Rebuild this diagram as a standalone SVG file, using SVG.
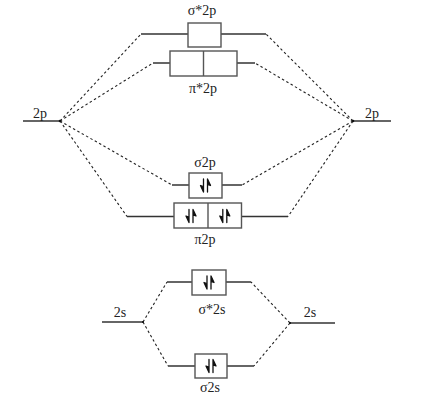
<svg xmlns="http://www.w3.org/2000/svg" xmlns:xlink="http://www.w3.org/1999/xlink" width="441" height="410" viewBox="0 0 441 410">
<style>
.lvl{stroke:#333;stroke-width:1.3;fill:none}
.dash{stroke:#222;stroke-width:1.1;stroke-dasharray:2.5 2.5;fill:none}
.box{stroke:#555;stroke-width:1.4;fill:#fff}
.lbl{font-family:"Liberation Serif","Times New Roman",serif;font-size:14px;fill:#222;text-anchor:middle}
.dot{fill:#111}
</style>
<defs>
<g id="pair">
<path d="M-2,-6.5 V6.5 L-5,0 L-2,1 Z" fill="#111" stroke="#111" stroke-width="1.3" stroke-linejoin="round"/>
<path d="M2,6.5 V-6.5 L5,0 L2,-1 Z" fill="#111" stroke="#111" stroke-width="1.3" stroke-linejoin="round"/>
</g>
</defs>
<rect width="441" height="410" fill="#fff"/>
<g id="connectors">
<path class="dash" d="M60,121 L141,34"/>
<path class="dash" d="M60,121 L153,63"/>
<path class="dash" d="M60,121 L172,185"/>
<path class="dash" d="M60,121 L127,216.5"/>
<path class="dash" d="M353,121 L266,34"/>
<path class="dash" d="M353,121 L255,63"/>
<path class="dash" d="M353,121 L242,185"/>
<path class="dash" d="M353,121 L288,216.5"/>
<path class="dash" d="M143,322 L167,282"/>
<path class="dash" d="M143,322 L168,366"/>
<path class="dash" d="M290,323 L251,282"/>
<path class="dash" d="M290,323 L254,366"/>
</g>
<g id="left-2p">
<line class="lvl" x1="23" y1="121" x2="60" y2="121"/>
<circle class="dot" cx="60" cy="121" r="1.3"/>
<text class="lbl" x="40" y="118">2p</text>
</g>
<g id="right-2p">
<line class="lvl" x1="353" y1="121" x2="391" y2="121"/>
<circle class="dot" cx="353" cy="121" r="1.3"/>
<text class="lbl" x="372" y="118">2p</text>
</g>
<g id="sigma-star-2p">
<line class="lvl" x1="141" y1="34" x2="266" y2="34"/>
<rect class="box" x="188" y="23" width="33" height="24"/>
<text class="lbl" x="202" y="15">σ*2p</text>
</g>
<g id="pi-star-2p">
<line class="lvl" x1="153" y1="63" x2="255" y2="63"/>
<rect class="box" x="170" y="51" width="67" height="25"/>
<line class="box" x1="203.5" y1="51" x2="203.5" y2="76"/>
<text class="lbl" x="203" y="93">π*2p</text>
</g>
<g id="sigma-2p">
<line class="lvl" x1="172" y1="185" x2="242" y2="185"/>
<rect class="box" x="189" y="173" width="33" height="25"/>
<use xlink:href="#pair" x="205.5" y="185.5"/>
<text class="lbl" x="205" y="167">σ2p</text>
</g>
<g id="pi-2p">
<line class="lvl" x1="127" y1="216.5" x2="288" y2="216.5"/>
<rect class="box" x="174" y="203" width="67.5" height="25"/>
<line class="box" x1="208" y1="203" x2="208" y2="228"/>
<use xlink:href="#pair" x="191" y="216"/>
<use xlink:href="#pair" x="224.8" y="216"/>
<text class="lbl" x="205" y="244">π2p</text>
</g>
<g id="left-2s">
<line class="lvl" x1="102" y1="322" x2="143" y2="322"/>
<circle class="dot" cx="143" cy="322" r="1.1"/>
<text class="lbl" x="120" y="317">2s</text>
</g>
<g id="right-2s">
<line class="lvl" x1="290" y1="323" x2="335" y2="323"/>
<circle class="dot" cx="290" cy="323" r="1.1"/>
<text class="lbl" x="310" y="317">2s</text>
</g>
<g id="sigma-star-2s">
<line class="lvl" x1="167" y1="282" x2="251" y2="282"/>
<rect class="box" x="192" y="270" width="34" height="25"/>
<use xlink:href="#pair" x="209" y="282.5"/>
<text class="lbl" x="212" y="314">σ*2s</text>
</g>
<g id="sigma-2s">
<line class="lvl" x1="168" y1="366" x2="254" y2="366"/>
<rect class="box" x="195" y="354" width="32" height="24"/>
<use xlink:href="#pair" x="211" y="366"/>
<text class="lbl" x="210" y="392">σ2s</text>
</g>
</svg>
